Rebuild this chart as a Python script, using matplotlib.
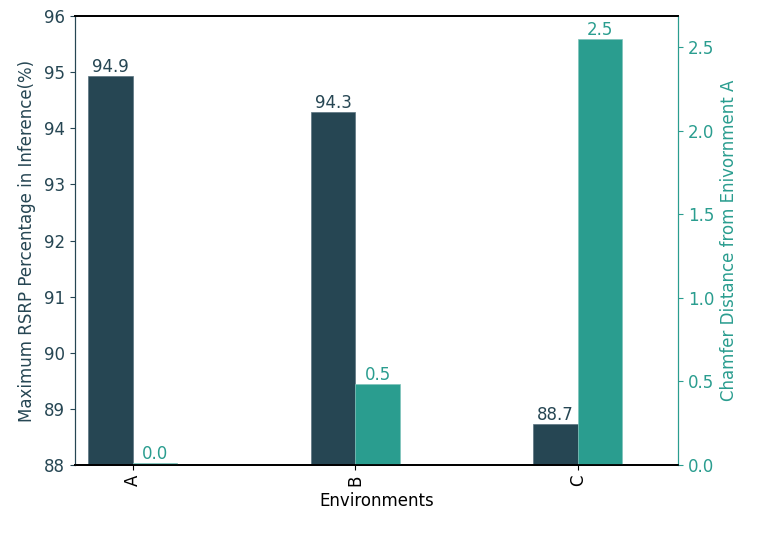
import matplotlib
matplotlib.use("Agg")
import matplotlib.pyplot as plt
import numpy as np

categories = ["A", "B", "C"]
rsrp_values = [94.93, 94.29, 88.73]
chamfer_values = [0.01, 0.484, 2.549]

dark = "#264653"
teal = "#2a9d8f"

fig = plt.figure(figsize=(7.61, 5.57), dpi=100)
ax = fig.add_axes([75/761, 1-465/557, (678-75)/761, (465-16)/557])
ax2 = ax.twinx()

x = np.arange(len(categories))
w = 0.2
b1 = ax.bar(x - w/2, rsrp_values, w, color=dark, edgecolor="#5a7480", linewidth=0.5)
b2 = ax2.bar(x + w/2, chamfer_values, w, color=teal, edgecolor="#7fc4bb", linewidth=0.5)

ax.set_ylim(88, 96)
ax2.set_ylim(0, 2.685)
ax.set_xlim(-0.26, 2.45)

fs = 12
for rect, v in zip(b1, rsrp_values):
    ax.text(rect.get_x() + rect.get_width()/2, v, f"{v:.1f}", ha="center", va="bottom", color=dark, fontsize=fs)
for rect, v in zip(b2, chamfer_values):
    ax2.text(rect.get_x() + rect.get_width()/2, v, f"{v:.1f}", ha="center", va="bottom", color=teal, fontsize=fs)

ax.set_xticks(x)
ax.set_xticklabels(categories, rotation=90, fontsize=fs)
ax.set_xlabel("Environments", fontsize=fs)
ax.set_ylabel("Maximum RSRP Percentage in Inference(%)", color=dark, fontsize=fs, labelpad=6)
ax2.set_ylabel("Chamfer Distance from Enivornment A", color=teal, fontsize=fs)

ax.tick_params(axis="y", colors=dark, labelsize=fs)
ax2.tick_params(axis="y", colors=teal, labelsize=fs)
for a in (ax, ax2):
    a.spines["left"].set_color(dark)
    a.spines["right"].set_color(teal)
    a.spines["top"].set_color("black")
    a.spines["bottom"].set_color("black")
    a.spines["top"].set_linewidth(1.3)
    a.spines["bottom"].set_linewidth(1.3)

fig.savefig("out.png", dpi=100)
